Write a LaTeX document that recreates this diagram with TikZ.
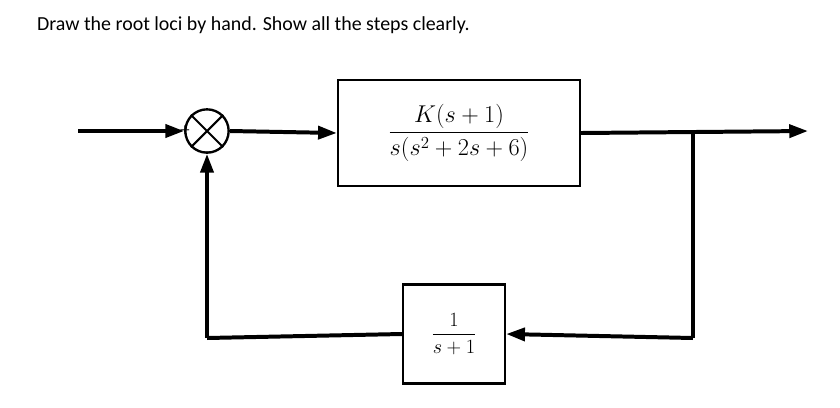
\documentclass[tikz,border=0pt]{standalone}
\usepackage{amsmath}
\usepackage{fontspec}
\setmainfont{Liberation Serif}
\newfontfamily\titlefont{Carlito}
\usetikzlibrary{arrows.meta}
\begin{document}
\begin{tikzpicture}[x=0.03cm,y=-0.03cm,
  sig/.style={line width=3.4pt,-{Triangle[length=16pt,width=11pt]}},
  wire/.style={line width=3.4pt},
  blk/.style={draw,line width=2pt,inner sep=0pt}]
\useasboundingbox (0,0) rectangle (840,407);
\node[anchor=west,font=\titlefont\fontsize{17pt}{20pt}\selectfont] (t) at (33,25) {Draw the root loci by hand. Show all the steps clearly.};
\node[blk,minimum width=7.26cm,minimum height=3.18cm] (G) at (459,133) {};
\node[font=\fontsize{20pt}{24pt}\selectfont] (Gt) at (G) {$\dfrac{K(s+1)}{s(s^2+2s+6)}$};
\node[blk,minimum width=3.06cm,minimum height=2.97cm] (H) at (454,334) {};
\node[font=\fontsize{19pt}{22pt}\selectfont] (Ht) at (H) {$\dfrac{1}{s+1}$};
\node[draw,circle,line width=2pt,minimum size=1.3cm,inner sep=0pt] (S) at (207,131) {};
\draw[line width=1.8pt] (S.north west)--(S.south east) (S.north east)--(S.south west);
\node[font=\fontsize{16pt}{18pt}\selectfont] (p) at (185,131) {+};
\node[font=\fontsize{16pt}{18pt}\selectfont] (m) at (207,152) {$-$};
\coordinate (in) at (78,131);
\coordinate (out) at (808,131);
\coordinate (tap) at (693,131);
\coordinate (c1) at (693,338);
\coordinate (c2) at (207,338);
\draw[sig] (in) -- (S.west);
\draw[sig] (S.east) -- (G.west);
\draw[sig] (G.east) -- (out);
\draw[wire] (tap) -- (c1);
\draw[sig] (c1) -- (H.east);
\draw[wire] (H.west) -- (c2);
\draw[sig] (c2) -- (S.south);
\end{tikzpicture}
\end{document}
